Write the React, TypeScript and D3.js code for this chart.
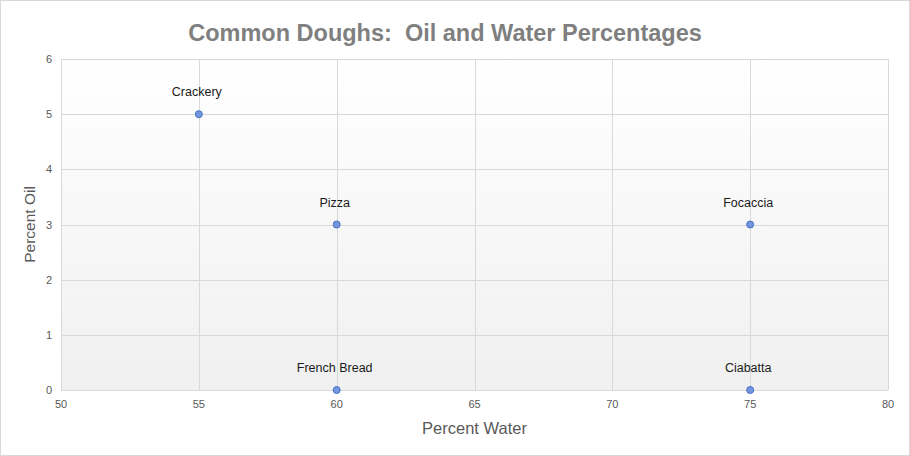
import React, { useEffect, useRef } from "react";
import * as d3 from "d3";

const doughs = ["Crackery", "Pizza", "Focaccia", "French Bread", "Ciabatta"];
const water = [55, 60, 75, 60, 75];
const oil = [5, 3, 3, 0, 0];
const xTicks = [50, 55, 60, 65, 70, 75, 80];
const yTicks = [0, 1, 2, 3, 4, 5, 6];

const W = 910;
const H = 456;
const FONT = "'Liberation Sans', Arial, sans-serif";

const App = () => {
  const ref = useRef<SVGSVGElement>(null);

  useEffect(() => {
    const svg = d3.select(ref.current);
    svg.selectAll("*").remove();

    const m = { left: 61, right: 888, top: 59, bottom: 390 };
    const x = d3.scaleLinear().domain([50, 80]).range([m.left, m.right]);
    const y = d3.scaleLinear().domain([0, 6]).range([m.bottom, m.top]);

    const defs = svg.append("defs");
    const grad = defs
      .append("linearGradient")
      .attr("id", "plotBg")
      .attr("x1", 0)
      .attr("y1", 0)
      .attr("x2", 0)
      .attr("y2", 1);
    grad.append("stop").attr("offset", "0%").attr("stop-color", "#ffffff");
    grad.append("stop").attr("offset", "100%").attr("stop-color", "#f0f0f0");

    // outer chart frame
    svg
      .append("rect")
      .attr("x", 0.5)
      .attr("y", 0.5)
      .attr("width", W - 1)
      .attr("height", H - 1)
      .attr("fill", "#ffffff")
      .attr("stroke", "#d9d9d9");

    svg
      .append("rect")
      .attr("x", m.left)
      .attr("y", m.top)
      .attr("width", m.right - m.left)
      .attr("height", m.bottom - m.top)
      .attr("fill", "url(#plotBg)");

    // gridlines
    svg
      .append("g")
      .selectAll("line")
      .data(xTicks)
      .enter()
      .append("line")
      .attr("x1", (d) => Math.round(x(d)) + 0.5)
      .attr("x2", (d) => Math.round(x(d)) + 0.5)
      .attr("y1", m.top)
      .attr("y2", m.bottom)
      .attr("stroke", "#d9d9d9")
      .attr("stroke-width", 1);

    svg
      .append("g")
      .selectAll("line")
      .data(yTicks)
      .enter()
      .append("line")
      .attr("x1", m.left)
      .attr("x2", m.right)
      .attr("y1", (d) => Math.round(y(d)) + 0.5)
      .attr("y2", (d) => Math.round(y(d)) + 0.5)
      .attr("stroke", "#d9d9d9")
      .attr("stroke-width", 1);

    // tick labels
    svg
      .append("g")
      .selectAll("text")
      .data(xTicks)
      .enter()
      .append("text")
      .attr("x", (d) => x(d))
      .attr("y", m.bottom + 18)
      .attr("text-anchor", "middle")
      .attr("font-family", FONT)
      .attr("font-size", 11)
      .attr("fill", "#595959")
      .text((d) => d);

    svg
      .append("g")
      .selectAll("text")
      .data(yTicks)
      .enter()
      .append("text")
      .attr("x", m.left - 9)
      .attr("y", (d) => y(d) + 4)
      .attr("text-anchor", "end")
      .attr("font-family", FONT)
      .attr("font-size", 11)
      .attr("fill", "#595959")
      .text((d) => d);

    // title and axis titles
    svg
      .append("text")
      .attr("x", 445)
      .attr("y", 41)
      .attr("text-anchor", "middle")
      .attr("font-family", FONT)
      .attr("font-weight", "bold")
      .attr("font-size", 23.5)
      .attr("fill", "#7f7f7f")
      .attr("xml:space", "preserve")
      .text("Common Doughs:  Oil and Water Percentages");

    svg
      .append("text")
      .attr("x", (m.left + m.right) / 2)
      .attr("y", 434)
      .attr("text-anchor", "middle")
      .attr("font-family", FONT)
      .attr("font-size", 16.5)
      .attr("fill", "#595959")
      .text("Percent Water");

    svg
      .append("text")
      .attr("transform", `translate(35, ${(m.top + m.bottom) / 2}) rotate(-90)`)
      .attr("text-anchor", "middle")
      .attr("font-family", FONT)
      .attr("font-size", 15.5)
      .attr("fill", "#595959")
      .text("Percent Oil");

    // points with data labels
    const pts = svg
      .append("g")
      .selectAll("g")
      .data(doughs.map((name, i) => ({ name, w: water[i], o: oil[i] })))
      .enter()
      .append("g");

    pts
      .append("circle")
      .attr("cx", (d) => x(d.w))
      .attr("cy", (d) => y(d.o))
      .attr("r", 3.5)
      .attr("fill", "#7396dd")
      .attr("stroke", "#4472c4")
      .attr("stroke-width", 1);

    pts
      .append("text")
      .attr("x", (d) => x(d.w) - 2)
      .attr("y", (d) => y(d.o) - 18)
      .attr("text-anchor", "middle")
      .attr("font-family", FONT)
      .attr("font-size", 12.5)
      .attr("fill", "#1a1a1a")
      .text((d) => d.name);

    return () => {
      svg.selectAll("*").remove();
    };
  }, []);

  return (
    <svg
      ref={ref}
      width={W}
      height={H}
      style={{ position: "absolute", left: 0, top: 0 }}
    ></svg>
  );
};

export default App;
